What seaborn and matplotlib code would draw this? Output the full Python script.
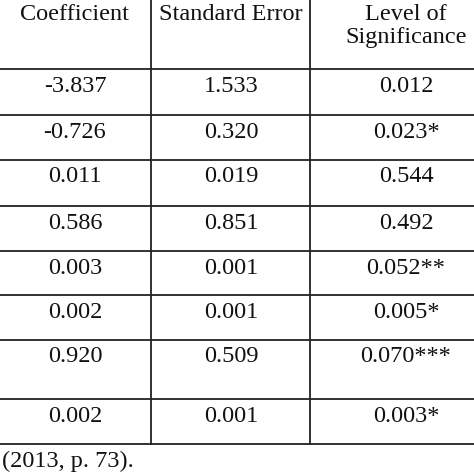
import matplotlib.pyplot as plt
import seaborn as sns

sns.set_theme(style="white")
plt.rcParams['font.family'] = ['Liberation Serif', 'DejaVu Serif']

headers = ["Coefficient", "Standard Error", "Level of\nSignificance"]
coefficients = ["-3.837", "-0.726", "0.011", "0.586", "0.003", "0.002", "0.920", "0.002"]
std_errors = ["1.533", "0.320", "0.019", "0.851", "0.001", "0.001", "0.509", "0.001"]
significance = ["0.012", "0.023*", "0.544", "0.492", "0.052**", "0.005*", "0.070***", "0.003*"]
footnote = "(2013, p. 73)."

# table geometry in pixels
row_lines = [69, 115, 160, 206, 251, 295, 340, 399, 444]
col_lines = [151, 310]
col_centers = [75, 231, 406]

fig = plt.figure(figsize=(4.74, 4.74), dpi=100)
ax = fig.add_axes([0, 0, 1, 1])
ax.set_xlim(0, 474)
ax.set_ylim(474, 0)
ax.axis("off")

for y in row_lines:
    ax.plot([0, 474], [y, y], color="#222222", lw=1.3)
for x in col_lines:
    ax.plot([x, x], [-5, row_lines[-1]], color="#222222", lw=1.3)

fs = 17.5
ax.text(col_centers[0], 14, headers[0], ha="center", va="center", fontsize=fs, color="#111111")
ax.text(col_centers[1], 14, headers[1], ha="center", va="center", fontsize=fs, color="#111111")
ax.text(col_centers[2], 26, headers[2], ha="center", va="center", fontsize=fs,
        color="#111111", linespacing=1.15)

for i, vals in enumerate(zip(coefficients, std_errors, significance)):
    top = row_lines[i]
    for cx, v in zip(col_centers, vals):
        ax.text(cx, top + 17, v, ha="center", va="center", fontsize=fs, color="#111111")

ax.text(2, 461, footnote, ha="left", va="center", fontsize=fs, color="#111111")

fig.savefig("out.png", dpi=100)
